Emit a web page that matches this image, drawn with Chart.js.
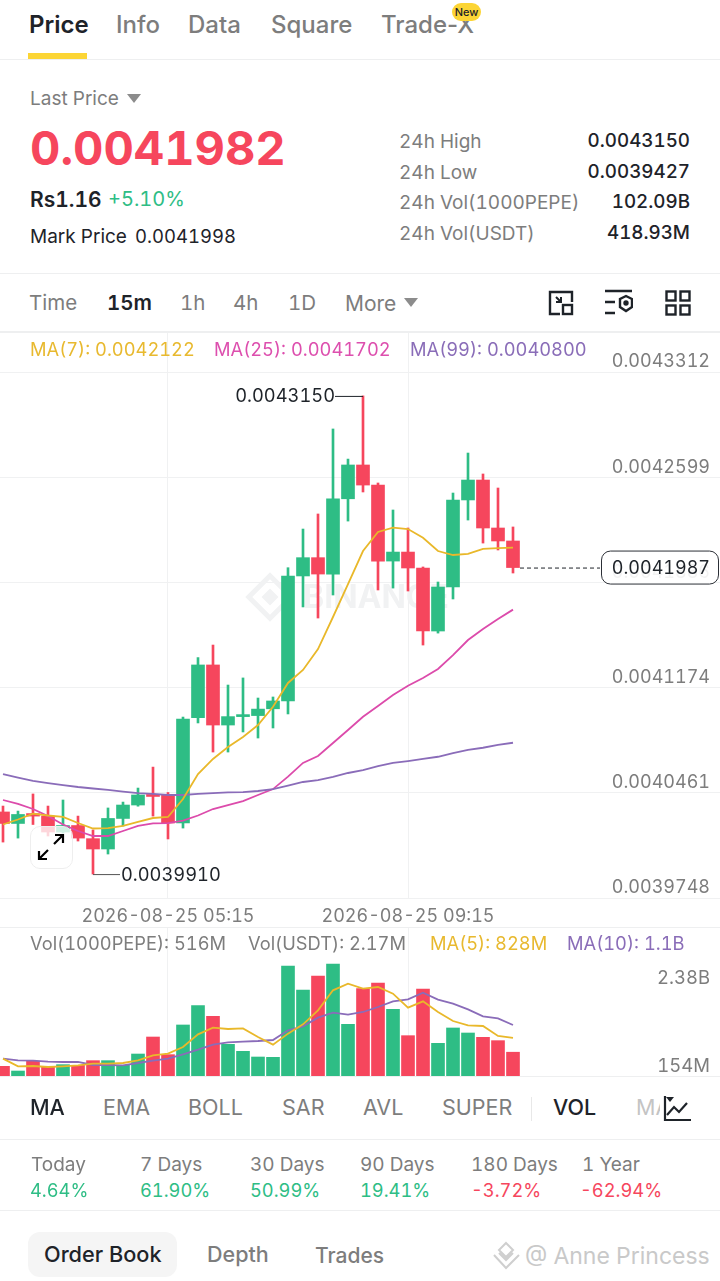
<!DOCTYPE html>
<html><head><meta charset="utf-8">
<script src="https://cdn.jsdelivr.net/npm/chart.js@4"></script>
<style>
html,body{margin:0;padding:0;background:#fff;}
body{position:relative;width:720px;height:1281px;overflow:hidden;font-family:Inter,"Noto Sans",sans-serif;color:#1e2329;font-variant-numeric:tabular-nums;}
.t{position:absolute;white-space:nowrap;line-height:1;transform:translateY(-50%);}
.r{transform:translate(-100%,-50%);}
.g{color:#7d7d7d}.k{color:#1e2329}
.line{position:absolute;left:0;width:720px;height:1px;background:#eeeff0;}
canvas{position:absolute;left:0;display:block;}
svg{position:absolute;}
</style></head><body>
<canvas id="priceChart" width="720" height="594" style="top:332px;width:720px;height:594px"></canvas>
<canvas id="volChart" width="720" height="149" style="top:927px;width:720px;height:149px"></canvas>

<div class="t k" style="left:29px;top:25px;font-size:24px;font-weight:600">Price</div>
<div class="t g" style="left:116px;top:25px;font-size:24px;font-weight:500">Info</div>
<div class="t g" style="left:188px;top:25px;font-size:24px;font-weight:500">Data</div>
<div class="t g" style="left:271px;top:25px;font-size:24px;font-weight:500">Square</div>
<div class="t g" style="left:381px;top:25px;font-size:24px;font-weight:500;font-variant-numeric:normal">Trade-X</div>
<div class="t k" style="left:452px;top:12px;width:29px;height:18px;border-radius:9px;background:#fcd535;font-size:11px;line-height:18px;text-align:center;font-weight:500">New</div>
<div style="position:absolute;left:28px;top:53px;width:59px;height:6px;background:#fcd535"></div>
<div class="line" style="top:59px"></div>

<div class="t g" style="left:30px;top:98px;font-size:19px">Last Price</div>
<svg style="left:127px;top:94px" width="14" height="9"><path d="M0 0H14L7 9Z" fill="#8c8c8c"/></svg>
<div class="t" style="left:30px;top:147px;font-size:47px;font-weight:700;color:#f6465d">0.0041982</div>
<div class="t k" style="left:30px;top:199px;font-size:21px;font-weight:600">Rs1.16</div>
<div class="t" style="left:108px;top:199px;font-size:20px;color:#2ebd85">+5.10%</div>
<div class="t k" style="left:30px;top:236px;font-size:19px">Mark Price</div>
<div class="t k" style="left:135px;top:236px;font-size:18.5px">0.0041998</div>
<div class="t g" style="left:399px;top:141px;font-size:19px">24h High</div>
<div class="t g" style="left:399px;top:172px;font-size:19px">24h Low</div>
<div class="t g" style="left:399px;top:202px;font-size:19px">24h Vol(1000PEPE)</div>
<div class="t g" style="left:399px;top:233px;font-size:19px">24h Vol(USDT)</div>
<div class="t r k" style="left:690px;top:141px;font-size:18.8px;font-weight:500">0.0043150</div>
<div class="t r k" style="left:690px;top:172px;font-size:18.8px;font-weight:500">0.0039427</div>
<div class="t r k" style="left:690px;top:202px;font-size:18.8px;font-weight:500">102.09B</div>
<div class="t r k" style="left:690px;top:233px;font-size:18.8px;font-weight:500">418.93M</div>
<div class="line" style="top:273px"></div>

<div class="t g" style="left:29px;top:303px;font-size:20.5px">Time</div>
<div class="t k" style="left:107px;top:303px;font-size:20.5px;font-weight:600">15m</div>
<div class="t g" style="left:180px;top:303px;font-size:20.5px">1h</div>
<div class="t g" style="left:233px;top:303px;font-size:20.5px">4h</div>
<div class="t g" style="left:288px;top:303px;font-size:20.5px">1D</div>
<div class="t g" style="left:345px;top:303px;font-size:21px">More</div>
<svg style="left:404px;top:298px" width="14" height="9"><path d="M0 0H14L7 9Z" fill="#8c8c8c"/></svg>
<svg style="left:548px;top:290px" width="26" height="26" fill="none" stroke="#1e2329" stroke-width="2.4"><path d="M24 12V2H2V24H12"/><rect x="15" y="15" width="9" height="9"/><path d="M8 7L13 12M8 12H13V7" stroke-width="2"/></svg>
<svg style="left:605px;top:289px" width="28" height="26" fill="none" stroke="#1e2329" stroke-width="2.4"><path d="M0 2H27M0 13H10M0 24H10"/><path d="M21 7L27 10V18L21 22L15 18V10Z"/><circle cx="21" cy="14" r="1.5" fill="#1e2329"/></svg>
<svg style="left:665px;top:290px" width="26" height="26" fill="none" stroke="#1e2329" stroke-width="2.4"><rect x="1.5" y="1.5" width="9" height="9"/><rect x="15.5" y="1.5" width="9" height="9"/><rect x="1.5" y="15.5" width="9" height="9"/><rect x="15.5" y="15.5" width="9" height="9"/></svg>
<div class="line" style="top:331px;height:2px"></div>

<div class="t" style="left:30px;top:349px;font-size:18.3px;color:#e8b92f">MA(7): 0.0042122</div>
<div class="t" style="left:214px;top:349px;font-size:18.3px;color:#dd4fae">MA(25): 0.0041702</div>
<div class="t" style="left:410px;top:349px;font-size:18.3px;color:#8a6db8">MA(99): 0.0040800</div>

<div style="position:absolute;left:30px;top:826px;width:41px;height:41px;border-radius:10px;border:1px solid #eeeeee;background:rgba(255,255,255,.78)"></div>
<svg style="left:37px;top:833px" width="28" height="28" fill="none" stroke="#000" stroke-width="2.2"><path d="M17 11L26 2M18 2H26V10M11 17L2 26M2 18V26H10"/></svg>

<div class="line" style="top:927px"></div>
<div class="line" style="top:1076px"></div>
<div class="t g" style="left:30px;top:943px;font-size:18.3px">Vol(1000PEPE): 516M</div>
<div class="t g" style="left:248px;top:943px;font-size:18.3px">Vol(USDT): 2.17M</div>
<div class="t" style="left:430px;top:943px;font-size:18.3px;color:#e8b92f">MA(5): 828M</div>
<div class="t" style="left:567px;top:943px;font-size:18.3px;color:#8a6db8">MA(10): 1.1B</div>

<div class="t k" style="left:30px;top:1108px;font-size:21.5px;font-weight:500">MA</div>
<div class="t g" style="left:103px;top:1108px;font-size:21.5px">EMA</div>
<div class="t g" style="left:188px;top:1108px;font-size:21.5px">BOLL</div>
<div class="t g" style="left:282px;top:1108px;font-size:21.5px">SAR</div>
<div class="t g" style="left:363px;top:1108px;font-size:21.5px">AVL</div>
<div class="t g" style="left:442px;top:1108px;font-size:21.5px">SUPER</div>
<div style="position:absolute;left:531px;top:1097px;width:1px;height:24px;background:#e8e8e8"></div>
<div class="t k" style="left:553px;top:1108px;font-size:21.5px;font-weight:500">VOL</div>
<div class="t" style="left:636px;top:1108px;font-size:21.5px;width:24px;overflow:hidden;color:#c4c4c4">MA</div>
<svg style="left:663px;top:1096px" width="28" height="26" fill="none" stroke="#1e2329" stroke-width="2.2"><path d="M2 0V24H28"/><path d="M4 19L11 11L16 16L24 7"/><path d="M3 1H11L7 6Z" fill="#1e2329" stroke="none"/></svg>
<div class="line" style="top:1139px"></div>

<div class="t g" style="left:31px;top:1164px;font-size:19px">Today</div>
<div class="t g" style="left:140px;top:1164px;font-size:19px">7 Days</div>
<div class="t g" style="left:250px;top:1164px;font-size:19px">30 Days</div>
<div class="t g" style="left:360px;top:1164px;font-size:19px">90 Days</div>
<div class="t g" style="left:471px;top:1164px;font-size:19px">180 Days</div>
<div class="t g" style="left:582px;top:1164px;font-size:19px">1 Year</div>
<div class="t" style="left:30px;top:1190px;font-size:18.3px;color:#2ebd85">4.64%</div>
<div class="t" style="left:140px;top:1190px;font-size:18.3px;color:#2ebd85">61.90%</div>
<div class="t" style="left:250px;top:1190px;font-size:18.3px;color:#2ebd85">50.99%</div>
<div class="t" style="left:360px;top:1190px;font-size:18.3px;color:#2ebd85">19.41%</div>
<div class="t" style="left:471px;top:1190px;font-size:18.3px;color:#f6465d">-3.72%</div>
<div class="t" style="left:580px;top:1190px;font-size:18.3px;color:#f6465d">-62.94%</div>
<div class="line" style="top:1210px"></div>

<div style="position:absolute;left:28px;top:1232px;width:149px;height:45px;border-radius:12px;background:#f5f5f5"></div>
<div class="t k" style="left:44px;top:1255px;font-size:21.7px;font-weight:500">Order Book</div>
<div class="t g" style="left:207px;top:1255px;font-size:21.5px;font-weight:500">Depth</div>
<div class="t g" style="left:315px;top:1255px;font-size:21px;font-weight:500">Trades</div>
<svg style="left:492px;top:1241px" width="29" height="29" fill="none" stroke="#cfcfcf" stroke-width="2"><path d="M14 2L21 9L14 16L7 9ZM7 12L14 19L21 12M2 14L14 27L27 14"/></svg>
<div class="t" style="left:525px;top:1256px;font-size:23px;color:#c9c9c9">@ Anne Princess</div>

<script>
/* candles, index 0..34, 15-minute bars */
const opens  = [0.0040331,0.0040253,0.0040320,0.0040303,0.0040195,0.0040239,0.0040150,0.0040080,0.0040287,0.0040378,0.0040446,0.0040446,0.0040256,0.0040970,0.0041327,0.0040920,0.0040977,0.0040984,0.0041030,0.0041083,0.0041930,0.0042054,0.0041943,0.0042453,0.0042682,0.0042546,0.0042031,0.0042092,0.0041984,0.0041557,0.0041855,0.0042445,0.0042580,0.0042255,0.0042167];
const highs  = [0.0040371,0.0040337,0.0040453,0.0040371,0.0040412,0.0040303,0.0040209,0.0040358,0.0040398,0.0040493,0.0040635,0.0040463,0.0040974,0.0041377,0.0041462,0.0041191,0.0041239,0.0041103,0.0041110,0.0041986,0.0042248,0.0042350,0.0042926,0.0042722,0.0043150,0.0042560,0.0042377,0.0042255,0.0041991,0.0041889,0.0042492,0.0042763,0.0042621,0.0042526,0.0042262];
const lows   = [0.0040127,0.0040154,0.0040246,0.0040168,0.0040188,0.0040134,0.0039910,0.0040046,0.0040236,0.0040370,0.0040303,0.0040148,0.0040222,0.0040934,0.0040737,0.0040737,0.0040873,0.0040832,0.0040900,0.0040995,0.0041720,0.0041645,0.0041801,0.0042302,0.0042499,0.0041835,0.0041848,0.0041828,0.0041462,0.0041543,0.0041774,0.0042309,0.0042153,0.0042106,0.0041950];
const closes = [0.0040253,0.0040314,0.0040303,0.0040195,0.0040239,0.0040154,0.0040080,0.0040287,0.0040378,0.0040446,0.0040436,0.0040256,0.0040961,0.0041327,0.0040920,0.0040977,0.0040988,0.0041028,0.0041083,0.0041930,0.0042054,0.0041943,0.0042453,0.0042682,0.0042546,0.0042031,0.0042092,0.0041984,0.0041557,0.0041855,0.0042445,0.0042580,0.0042255,0.0042167,0.0041987];
const ma7    = [0.0040246,0.0040280,0.0040320,0.0040307,0.0040297,0.0040256,0.0040219,0.0040222,0.0040236,0.0040263,0.0040290,0.0040297,0.0040419,0.0040588,0.0040690,0.0040771,0.0040839,0.0040920,0.0041044,0.0041205,0.0041293,0.0041435,0.0041652,0.0041875,0.0042099,0.0042228,0.0042257,0.0042248,0.0042189,0.0042099,0.0042072,0.0042079,0.0042113,0.0042119,0.0042122];
const ma25   = [0.0040412,0.0040385,0.0040351,0.0040303,0.0040246,0.0040202,0.0040168,0.0040168,0.0040202,0.0040236,0.0040253,0.0040256,0.0040273,0.0040307,0.0040351,0.0040378,0.0040405,0.0040446,0.0040486,0.0040570,0.0040663,0.0040710,0.0040798,0.0040886,0.0040976,0.0041049,0.0041123,0.0041186,0.0041239,0.0041300,0.0041394,0.0041496,0.0041571,0.0041638,0.0041702];
const ma99   = [0.0040588,0.0040564,0.0040541,0.0040527,0.0040513,0.0040500,0.0040490,0.0040480,0.0040469,0.0040459,0.0040453,0.0040446,0.0040446,0.0040453,0.0040459,0.0040463,0.0040466,0.0040473,0.0040486,0.0040509,0.0040534,0.0040547,0.0040568,0.0040595,0.0040615,0.0040642,0.0040663,0.0040676,0.0040690,0.0040705,0.0040730,0.0040751,0.0040766,0.0040785,0.0040800];
/* volume in millions */
const volumes = [210,108,318,210,246,231,333,333,231,477,846,463,1107,1526,1295,687,535,412,405,2387,1866,2170,2430,1121,1895,2018,1447,875,1888,709,1042,933,839,767,516];
const volMa5  = [376,210,217,195,210,231,268,268,282,340,448,485,629,904,1049,1020,1034,846,680,919,1121,1425,1859,2004,1895,1931,1787,1483,1620,1389,1193,1099,1085,868,828];
const volMa10 = [376,340,333,311,304,304,239,239,231,282,333,376,470,571,680,731,745,759,781,991,1078,1266,1374,1331,1389,1497,1620,1664,1808,1656,1570,1447,1295,1251,1107];
/* axis ticks */
const priceTicks = [0.0043312,0.0042599,0.0041886,0.0041174,0.0040461,0.0039748];
const timeTickIndex = [11,27];
const timeTickLabels = ["2026-08-25 05:15","2026-08-25 09:15"];
const volTickLabels = ["2.38B","154M"];
const volTickSpots = [2127,217];
const lastPrice = 0.0041987, highMark = 0.0043150, lowMark = 0.0039910, highIndex = 24, lowIndex = 6;

const GREEN='#2ebd85', RED='#f6465d', GRID='#f0f1f2', YEL='#e9b82a', PINK='#dc4bab', PUR='#8a6cb9', FONT='Inter', WM='#f1f2f3';
Chart.defaults.font.family = FONT;
Chart.defaults.animation = false;
const idx = opens.map((_,i)=>i);
const candleColor = idx.map(i=>closes[i]>=opens[i]?GREEN:RED);
const pts = arr => arr.map((y,i)=>({x:i,y}));
const lineDs = (data,color,order)=>({type:'line',data:pts(data),borderColor:color,borderWidth:1.8,pointRadius:0,tension:0,order,yAxisID:'y'});
const noPad = s => {s.paddingTop=0;s.paddingBottom=0;s.paddingLeft=0;s.paddingRight=0;};
const X_MIN=-0.2, X_MAX=47.8;
const xOpts = extra => Object.assign({
  type:'linear',min:X_MIN,max:X_MAX,offset:false,
  grid:{color:GRID,drawTicks:false,offset:false},border:{display:false},
  afterBuildTicks(s){s.ticks=timeTickIndex.map(v=>({value:v}));}
},extra);

const marks = {
  id:'marks',
  beforeDatasetsDraw(c){
    const g=c.ctx,cy=265;
    g.save();g.fillStyle=WM;
    g.translate(270,cy);g.rotate(Math.PI/4);
    g.fillRect(-6,-6,12,12);g.strokeStyle=WM;g.lineWidth=5;g.strokeRect(-15,-15,30,30);
    g.restore();g.save();
    g.fillStyle=WM;g.font='700 32px '+FONT;g.textBaseline='middle';g.textAlign='left';
    g.fillText('BINANCE',303,cy+1);g.restore();
  },
  afterDraw(c){
    const g=c.ctx,x=c.scales.x,y=c.scales.y;
    g.save();
    g.font='18.3px '+FONT;g.textBaseline='middle';g.fillStyle='#1e2329';
    const hy=y.getPixelForValue(highMark), hx=x.getPixelForValue(highIndex);
    g.strokeStyle='#1e2329';g.lineWidth=1;
    g.beginPath();g.moveTo(hx,hy+.5);g.lineTo(hx-28,hy+.5);g.stroke();
    g.textAlign='right';g.fillText(highMark.toFixed(7),hx-28,hy+1);
    const ly=y.getPixelForValue(lowMark), lx=x.getPixelForValue(lowIndex);
    g.strokeStyle='#555';
    g.beginPath();g.moveTo(lx,ly+.5);g.lineTo(lx+27,ly+.5);g.stroke();
    g.textAlign='left';g.fillText(lowMark.toFixed(7),lx+28,ly+1);
    const py=y.getPixelForValue(lastPrice), ex=x.getPixelForValue(opens.length-1)+7;
    g.strokeStyle='#1e2329';g.setLineDash([4,3]);
    g.beginPath();g.moveTo(ex,py+.5);g.lineTo(600,py+.5);g.stroke();g.setLineDash([]);
    g.beginPath();g.roundRect(601.5,py-16.5,117,33,9);
    g.fillStyle='rgba(255,255,255,.9)';g.fill();g.strokeStyle='#2b2f36';g.stroke();
    g.font='18px '+FONT;g.fillStyle='#1e2329';g.textAlign='right';g.fillText(lastPrice.toFixed(7),710,py+1);
    g.restore();
  }
};

new Chart(document.getElementById('priceChart'),{
  type:'bar',
  data:{datasets:[
    lineDs(ma99,PUR,1),lineDs(ma25,PINK,1),lineDs(ma7,YEL,0),
    {data:idx.map(i=>({x:i,y:[opens[i],closes[i]]})),backgroundColor:candleColor,barThickness:13,grouped:false,order:2,minBarLength:2},
    {data:idx.map(i=>({x:i,y:[lows[i],highs[i]]})),backgroundColor:candleColor,barThickness:2,grouped:false,order:3}
  ]},
  options:{
    responsive:false,
    layout:{padding:0},
    plugins:{legend:{display:false},tooltip:{enabled:false}},
    scales:{
      x:xOpts({
        ticks:{autoSkip:false,maxRotation:0,padding:8,color:'#7d7d7d',font:{size:18},
          callback:(v)=>timeTickLabels[timeTickIndex.indexOf(v)]},
        afterFit(s){s.height=28;noPad(s);}
      }),
      y:{
        position:'right',min:0.0039748,max:0.004358304,
        grid:{color:GRID,drawTicks:false},border:{display:false},
        afterBuildTicks(s){s.ticks=priceTicks.map(v=>({value:v}));},
        afterFit(s){s.width=0;noPad(s);},
        ticks:{mirror:true,padding:-10,labelOffset:-10,color:'#7d7d7d',font:{size:18},
          callback:v=>v.toFixed(7)}
      }
    }
  },
  plugins:[marks]
});

new Chart(document.getElementById('volChart'),{
  type:'bar',
  data:{datasets:[
    lineDs(volMa10,PUR,1),lineDs(volMa5,YEL,0),
    {data:idx.map(i=>({x:i,y:volumes[i]})),backgroundColor:candleColor,barThickness:13,grouped:false,order:2}
  ]},
  options:{
    responsive:false,
    layout:{padding:0},
    plugins:{legend:{display:false},tooltip:{enabled:false}},
    scales:{
      x:xOpts({ticks:{display:false},afterFit(s){s.height=0;noPad(s);}}),
      y:{
        position:'right',min:0,max:3233,
        grid:{display:false},border:{display:false},
        afterBuildTicks(s){s.ticks=volTickSpots.map(v=>({value:v}));},
        afterFit(s){s.width=0;noPad(s);},
        ticks:{mirror:true,padding:-10,color:'#7d7d7d',font:{size:18.5},
          callback:(v)=>volTickLabels[volTickSpots.indexOf(v)]}
      }
    }
  }
});
</script>
</body></html>
